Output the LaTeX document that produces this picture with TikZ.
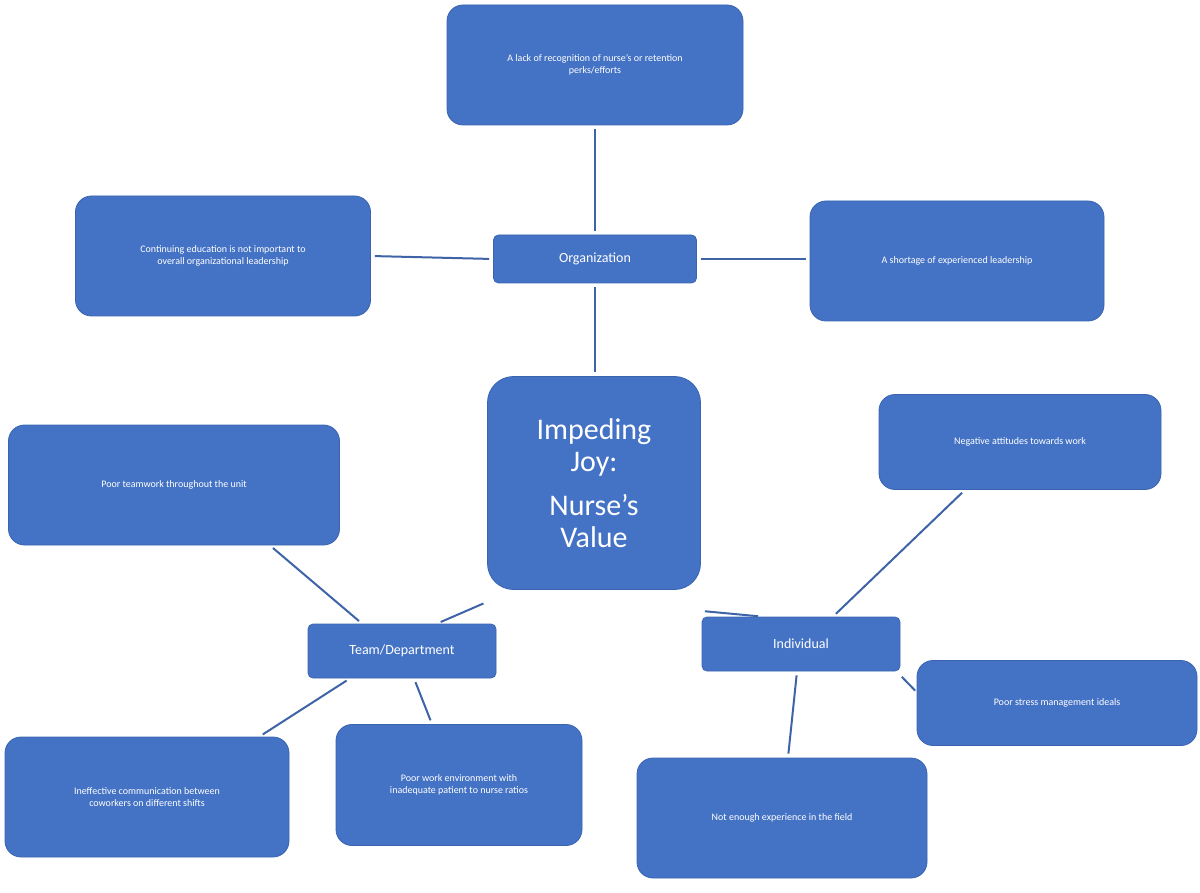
\documentclass[tikz,border=0pt]{standalone}
\usepackage{fontspec}
\setmainfont{Carlito}
\definecolor{boxfill}{HTML}{4472C4}
\definecolor{boxedge}{HTML}{3A64B0}
\definecolor{linkc}{HTML}{3E63A6}
\begin{document}
\begin{tikzpicture}[x=1pt,y=-1pt,
  box/.style={draw=boxedge,fill=boxfill,rounded corners=16pt,text=white,align=center,font=\fontsize{10}{12}\selectfont,inner sep=0pt,line width=0.8pt},
  hub/.style={box,rounded corners=5pt,font=\fontsize{14}{16}\selectfont},
  link/.style={draw=linkc,line width=2pt,shorten <=4pt,shorten >=4pt}]
\useasboundingbox (0,0) rectangle (1200,893);
\node[box,minimum width=296,minimum height=120] (top) at (595,65) {A lack of recognition of nurse's or retention\\perks/efforts};
\node[hub,minimum width=203,minimum height=48] (org) at (595,259) {Organization};
\node[box,minimum width=295,minimum height=120] (lo) at (223,256) {Continuing education is not important to\\overall organizational leadership};
\node[box,minimum width=294,minimum height=120] (ro) at (957,261) {A shortage of experienced leadership};
\node[box,rounded corners=26pt,minimum width=213,minimum height=213,font=\fontsize{30}{32}\selectfont] (c) at (594,483) {Impeding\\Joy:\\[12pt]Nurse's\\Value};
\node[box,minimum width=331,minimum height=120] (tw) at (174,485) {Poor teamwork throughout the unit};
\node[box,minimum width=282,minimum height=95] (neg) at (1020,442) {Negative attitudes towards work};
\node[hub,minimum width=188,minimum height=54] (team) at (402,651) {Team/Department};
\node[hub,minimum width=198,minimum height=54] (ind) at (801,644) {Individual};
\node[box,minimum width=280,minimum height=85] (st) at (1057,703) {Poor stress management ideals};
\node[box,minimum width=284,minimum height=120] (ic) at (147,797) {Ineffective communication between\\coworkers on different shifts};
\node[box,minimum width=246,minimum height=121] (we) at (459,785) {Poor work environment with\\inadequate patient to nurse ratios};
\node[box,minimum width=290,minimum height=120] (ne) at (782,818) {Not enough experience in the field};
\draw[link] (top.south) -- (org.north);
\draw[link] (org.west) -- (lo.east);
\draw[link] (org.east) -- (ro.west |- org.east);
\draw[link] (org.south) -- (c.north -| org.south);
\draw[link] ([xshift=-70pt]tw.south east) -- ([xshift=-40pt]team.north);
\draw[link] ([yshift=-12pt]c.south west) -- ([xshift=35pt]team.north);
\draw[link] ([yshift=-21pt]c.south east) -- ([xshift=-39pt]ind.north);
\draw[link] ([xshift=-55pt]neg.south) -- ([xshift=32pt]ind.north);
\draw[link,shorten <=2pt,shorten >=2pt] ([yshift=-4pt]ind.south east) -- ([yshift=-32pt]st.north west);
\draw[link] ([xshift=-4pt]ind.south) -- ([xshift=6pt]ne.north);
\draw[link] ([xshift=-52pt]team.south) -- ([xshift=-30pt]ic.north east);
\draw[link] ([xshift=12pt]team.south) -- ([xshift=-27pt]we.north);
\end{tikzpicture}
\end{document}
